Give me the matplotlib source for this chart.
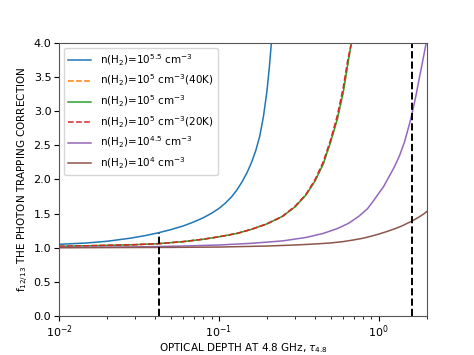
import matplotlib
matplotlib.use("Agg")
import matplotlib.pyplot as plt

# values
tau_a = [0.01, 0.015, 0.02, 0.028, 0.035, 0.042, 0.05, 0.06, 0.07, 0.08, 0.09, 0.1,
         0.11, 0.12, 0.13, 0.14, 0.15, 0.16, 0.17, 0.18, 0.19, 0.2, 0.207, 0.213, 0.218]
f_a = [1.05, 1.07, 1.095, 1.14, 1.18, 1.22, 1.265, 1.32, 1.38, 1.44, 1.505, 1.575,
       1.655, 1.745, 1.85, 1.97, 2.10, 2.25, 2.42, 2.63, 2.92, 3.30, 3.65, 4.0, 4.3]

tau_b = [0.01, 0.02, 0.03, 0.042, 0.06, 0.08, 0.1, 0.13, 0.16, 0.2, 0.25, 0.3,
         0.35, 0.4, 0.45, 0.5, 0.55, 0.6, 0.65, 0.68, 0.70]
f_b = [1.02, 1.035, 1.045, 1.06, 1.09, 1.125, 1.16, 1.21, 1.27, 1.35, 1.46, 1.60,
       1.77, 1.98, 2.23, 2.55, 2.88, 3.28, 3.78, 4.05, 4.3]

tau_c = [0.01, 0.02, 0.03, 0.042, 0.06, 0.08, 0.1, 0.13, 0.16, 0.2, 0.25, 0.3,
         0.35, 0.4, 0.45, 0.5, 0.55, 0.6, 0.64, 0.67]
f_c = [1.02, 1.035, 1.045, 1.06, 1.09, 1.125, 1.16, 1.21, 1.27, 1.35, 1.46, 1.61,
       1.78, 2.0, 2.26, 2.58, 2.93, 3.35, 3.75, 3.97]

tau_d = [0.01, 0.03, 0.06, 0.1, 0.16, 0.25, 0.35, 0.45, 0.55, 0.65, 0.75, 0.85,
         0.935, 1.075, 1.25, 1.35, 1.45, 1.585, 1.7, 1.8, 1.9, 2.0]
f_d = [1.005, 1.012, 1.025, 1.04, 1.065, 1.10, 1.15, 1.21, 1.28, 1.36, 1.46, 1.57,
       1.70, 1.90, 2.18, 2.35, 2.55, 2.88, 3.20, 3.50, 3.78, 4.05]

tau_e = [0.01, 0.05, 0.1, 0.2, 0.3, 0.4, 0.5, 0.6, 0.7, 0.8, 0.9, 1.0, 1.1,
         1.2, 1.3, 1.4, 1.5, 1.6, 1.7, 1.8, 1.9, 2.0]
f_e = [1.0, 1.005, 1.01, 1.025, 1.04, 1.055, 1.07, 1.09, 1.115, 1.14, 1.17, 1.20, 1.23,
       1.26, 1.29, 1.32, 1.355, 1.385, 1.42, 1.455, 1.49, 1.53]

labels = [r"n(H$_2$)=10$^{5.5}$ cm$^{-3}$",
          r"n(H$_2$)=10$^{5}$ cm$^{-3}$(40K)",
          r"n(H$_2$)=10$^{5}$ cm$^{-3}$",
          r"n(H$_2$)=10$^{5}$ cm$^{-3}$(20K)",
          r"n(H$_2$)=10$^{4.5}$ cm$^{-3}$",
          r"n(H$_2$)=10$^{4}$ cm$^{-3}$"]

# vertical marker lines
vline_tau = [0.042, 1.61]
vline_top = [1.22, 4.0]

fig = plt.figure(figsize=(4.74, 3.55), dpi=100)
ax = fig.add_axes([0.1245, 0.1099, 0.776, 0.769])

ax.plot(tau_a, f_a, '-', color='C0', lw=1.1, label=labels[0])
ax.plot(tau_b, f_b, '--', color='C1', lw=1.1, label=labels[1])
ax.plot(tau_b, f_b, '-', color='C2', lw=1.1, label=labels[2])
ax.plot(tau_c, f_c, '--', color='C3', lw=1.1, label=labels[3])
ax.plot(tau_d, f_d, '-', color='C4', lw=1.1, label=labels[4])
ax.plot(tau_e, f_e, '-', color='C5', lw=1.1, label=labels[5])

for t, top in zip(vline_tau, vline_top):
    ax.plot([t, t], [0, top], 'k--', lw=1.4)

ax.set_xscale('log')
ax.set_xlim(0.01, 2.0)
ax.set_ylim(0, 4.0)
ax.set_xlabel(r"OPTICAL DEPTH AT 4.8 GHz, $\tau_{4.8}$", fontsize=7.5, labelpad=1)
ax.set_ylabel(r"f$_{12/13}$ THE PHOTON TRAPPING CORRECTION", fontsize=7.5, labelpad=2)
ax.tick_params(labelsize=8, pad=2)
for s in ax.spines.values():
    s.set_color('#555555')
ax.legend(loc='upper left', fontsize=7.5, handlelength=2.2, labelspacing=0.5)

fig.savefig('out.png', dpi=100)
